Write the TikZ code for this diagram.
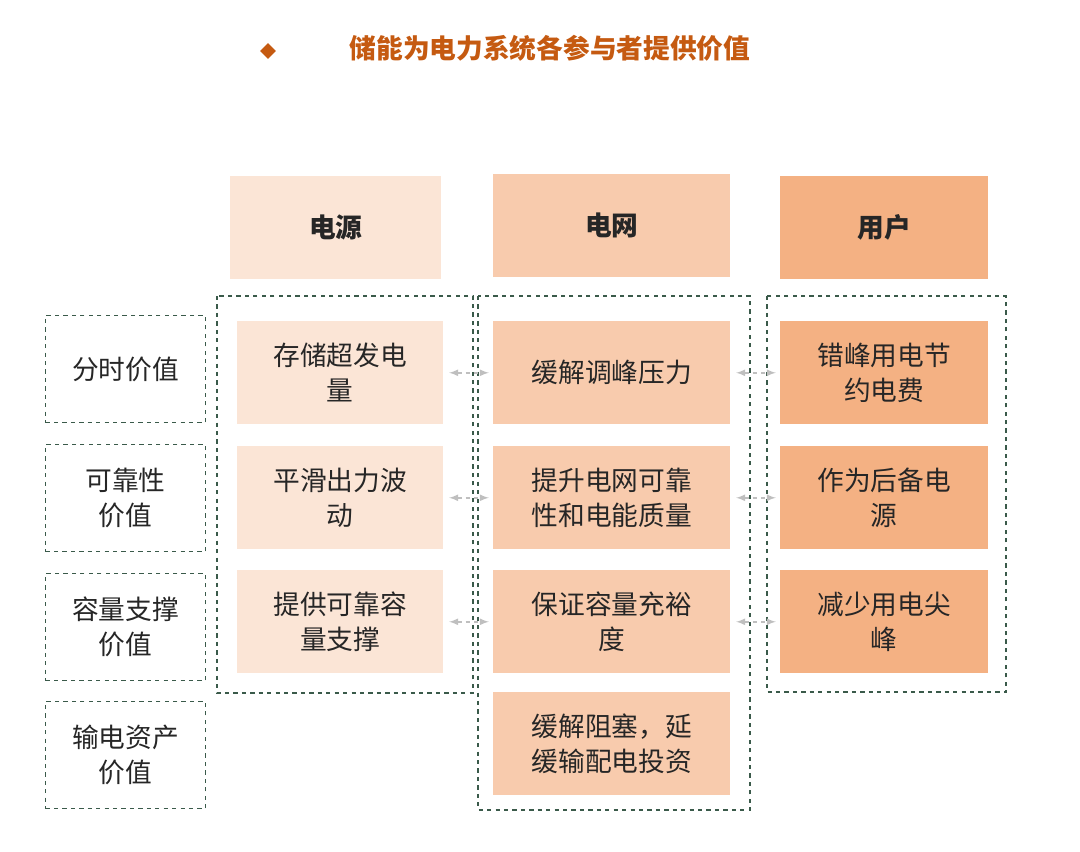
\documentclass[tikz,border=0pt]{standalone}
\usepackage{fontspec}
\setmainfont{Noto Sans CJK SC}
\definecolor{cA}{HTML}{FBE5D6}
\definecolor{cB}{HTML}{F8CBAD}
\definecolor{cC}{HTML}{F4B183}
\definecolor{ttl}{HTML}{C55A11}
\definecolor{grn}{HTML}{3A5A4A}
\begin{document}
\begin{tikzpicture}[x=0.025cm,y=-0.025cm,
 bx/.style={anchor=north west,inner sep=0,align=center,font=\fontsize{19}{25}\selectfont,text=black!85},
 grp/.style={draw=grn,dashed,line width=0.8pt},
 arr/.style={<->,>=latex,gray!50,dashed,line width=1.2pt}]
\useasboundingbox (0,0) rectangle (1080,851);
\node (tt) at (550,48) {\fontsize{19}{22}\selectfont\bfseries\color{ttl}储能为电力系统各参与者提供价值};
\node[fill=ttl,inner sep=0,minimum size=8pt,shape=rectangle,rotate=45] (dm) at (268,51) {};
% headers
\node[bx,fill=cA,minimum width=211*0.025cm,minimum height=103*0.025cm] (h1) at (230,176) {\bfseries 电源};
\node[bx,fill=cB,minimum width=237*0.025cm,minimum height=103*0.025cm] (h2) at (493,174) {\bfseries 电网};
\node[bx,fill=cC,minimum width=208*0.025cm,minimum height=103*0.025cm] (h3) at (780,176) {\bfseries 用户};
% groups
\draw[grp] (217,296) rectangle (473,693);
\draw[grp] (478,296) rectangle (750,810);
\draw[grp] (767,296) rectangle (1006,692);
% left labels
\foreach \y/\t/\n in {315/分时价值/l1,444/可靠性\\价值/l2,573/容量支撑\\价值/l3,701/输电资产\\价值/l4}
  \node[bx,draw=grn,dashed,line width=0.8pt,minimum width=160*0.025cm,minimum height=107*0.025cm] (\n) at (45,\y) {\t};
% column boxes
\foreach \y/\t/\n in {321/存储超发电\\量/a1,446/平滑出力波\\动/a2,570/提供可靠容\\量支撑/a3}
  \node[bx,fill=cA,minimum width=206*0.025cm,minimum height=103*0.025cm] (\n) at (237,\y) {\t};
\foreach \y/\t/\n in {321/缓解调峰压力/b1,446/提升电网可靠\\性和电能质量/b2,570/保证容量充裕\\度/b3,692/缓解阻塞，延\\缓输配电投资/b4}
  \node[bx,fill=cB,minimum width=237*0.025cm,minimum height=103*0.025cm] (\n) at (493,\y) {\t};
\foreach \y/\t/\n in {321/错峰用电节\\约电费/c1,446/作为后备电\\源/c2,570/减少用电尖\\峰/c3}
  \node[bx,fill=cC,minimum width=208*0.025cm,minimum height=103*0.025cm] (\n) at (780,\y) {\t};
\foreach \i in {1,2,3}{
  \draw[arr] ([xshift=4]a\i.east) -- ([xshift=-3]b\i.west);
  \draw[arr] ([xshift=4]b\i.east) -- ([xshift=-3]c\i.west);
}
\end{tikzpicture}
\end{document}
